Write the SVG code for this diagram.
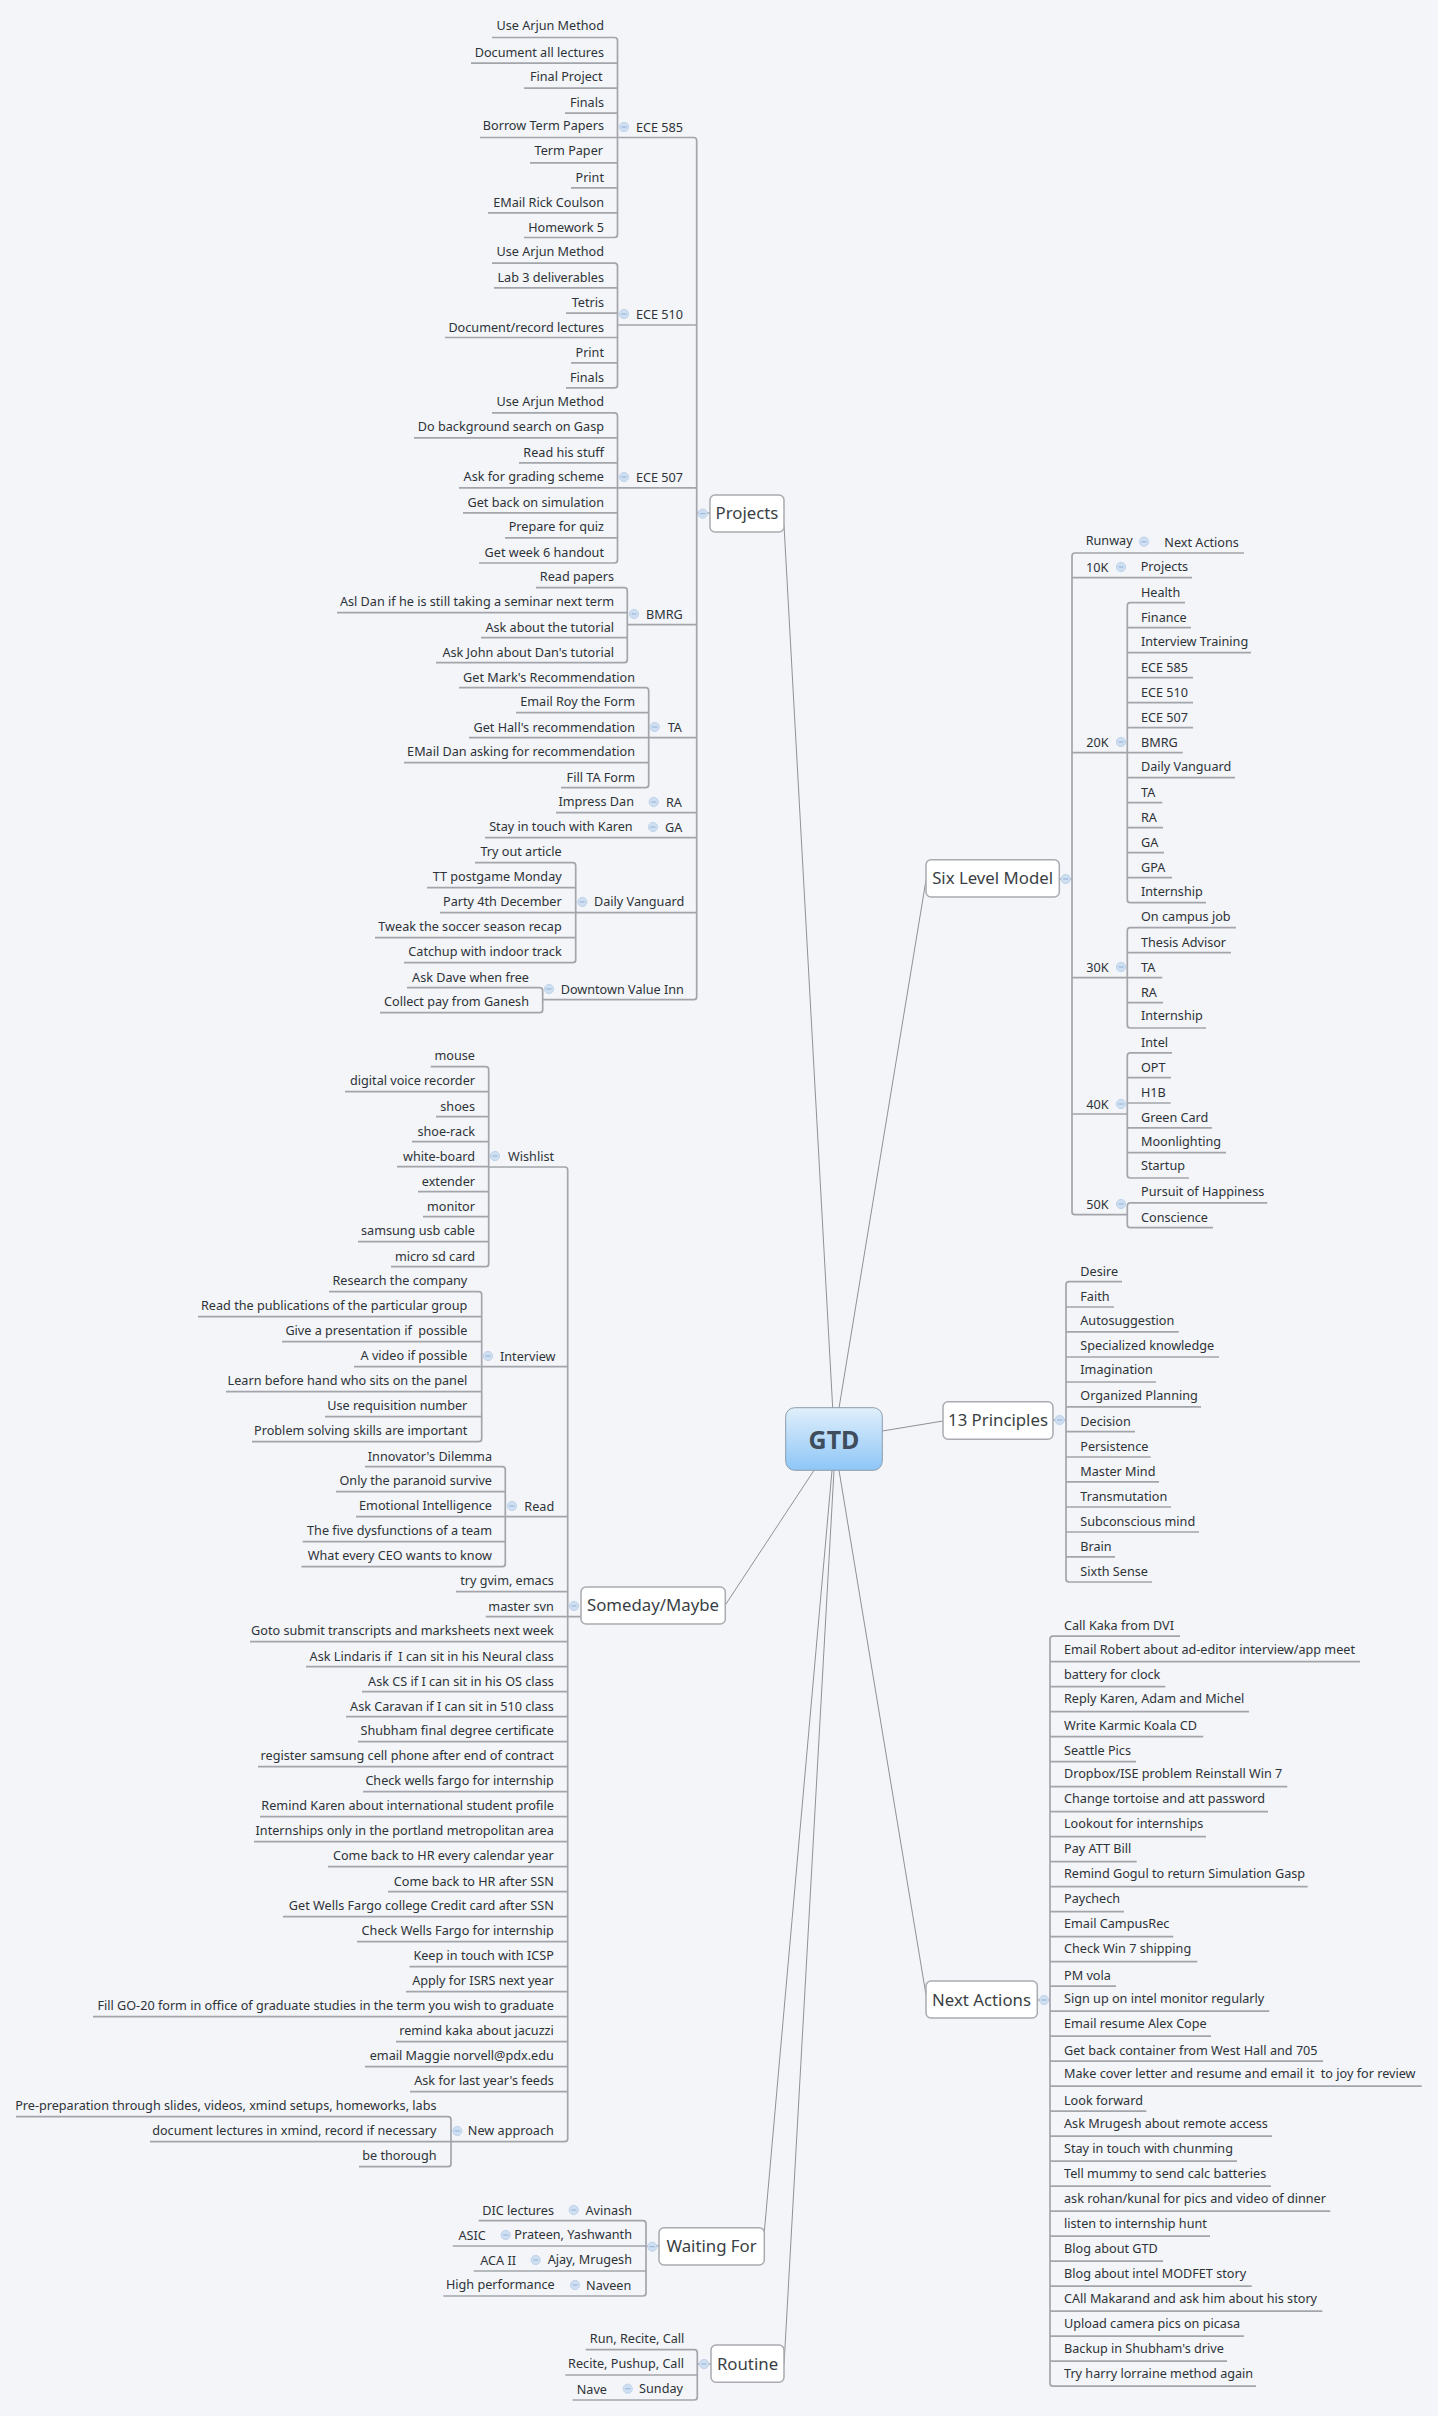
<svg xmlns="http://www.w3.org/2000/svg" width="1438" height="2416" viewBox="0 0 1438 2416">
<style>
text{font-family:"Noto Sans","Open Sans","Liberation Sans",sans-serif;font-size:12.65px;fill:#2e3338;white-space:pre}
.l{text-anchor:end}
.t{font-size:16.8px;text-anchor:middle;fill:#3a3f45}
.root{font-size:25px;font-weight:700;text-anchor:middle;fill:#3f4c5c}
.box{fill:#fff;stroke:#a9abb0;stroke-width:1.5}
.c{fill:none;stroke:#a3a5ab;stroke-width:1.7}
.m{fill:none;stroke:#8f9196;stroke-width:1}
.ci{fill:#cfdff2;stroke:#bed2ea;stroke-width:1}
.mi{stroke:#9db8da;stroke-width:1.2}
</style>
<defs>
<linearGradient id="g" x1="0" y1="0" x2="0" y2="1"><stop offset="0" stop-color="#e0effb"/><stop offset="1" stop-color="#8ec6f7"/></linearGradient>
<g id="i"><circle class="ci" r="4.6"/><path class="mi" d="M-2.5 0H2.5"/></g>
</defs>
<rect width="1438" height="2416" fill="#f3f5f9"/>
<g id="connectors">
<path class="m" d="M784 525L832.7 1408M926 880L839 1408M882.3 1431L943 1421M725.3 1605L814 1470.3M764.3 2232L832 1470.3M784 2365L834 1470.3M926 1995L839 1470.3"/>
<path class="c" d="M697 513H710M618 137.5H693.7Q696.7 137.5 696.7 140.5V996.7Q696.7 999.7 693.7 999.7H543M617.5 325H696.7M617.5 487.9H696.7M627.3 624.7H696.7M648.7 737.7H696.7M556 812.7H696.7M485 837.7H696.7M575.7 912.7H696.7"/>
<path class="c" d="M492 37.5H614.5Q617.5 37.5 617.5 40.5V234.5Q617.5 237.5 614.5 237.5H524M471 63.2H617.5M524 88.2H617.5M565 113.2H617.5M480 137.5H617.5M530 162.9H617.5M571 187.9H617.5M488 212.9H617.5"/>
<path class="c" d="M492 263.2H614.5Q617.5 263.2 617.5 266.2V384.9Q617.5 387.9 614.5 387.9H566M494 287.9H617.5M566 313.2H617.5M445 337.5H617.5M571 362.9H617.5"/>
<path class="c" d="M492 412.9H614.5Q617.5 412.9 617.5 415.9V560Q617.5 563 614.5 563H479M414 437.9H617.5M519 462.9H617.5M459 487.9H617.5M463 512.9H617.5M505 537.9H617.5"/>
<path class="c" d="M536 587.7H624.3Q627.3 587.7 627.3 590.7V659.7Q627.3 662.7 624.3 662.7H436M337 612.7H627.3M481 637.7H627.3"/>
<path class="c" d="M459 687.7H645.7Q648.7 687.7 648.7 690.7V784.7Q648.7 787.7 645.7 787.7H561M516 712.7H648.7M469 737.7H648.7M404 762.7H648.7"/>
<path class="c" d="M475 862.7H572.7Q575.7 862.7 575.7 865.7V959.7Q575.7 962.7 572.7 962.7H404M427 887.7H575.7M440 912.7H575.7M375 937.7H575.7"/>
<path class="c" d="M407 987.7H539.7Q542.7 987.7 542.7 990.7V1009.7Q542.7 1012.7 539.7 1012.7H380"/>
<path class="c" d="M488.7 1167H564.7Q567.7 1167 567.7 1170V2138.7Q567.7 2141.7 564.7 2141.7H451M481.7 1366.7H567.7M505.3 1516.7H567.7"/>
<path class="c" d="M430.7 1066.7H485.7Q488.7 1066.7 488.7 1069.7V1263.7Q488.7 1266.7 485.7 1266.7H391M345 1091.7H488.7M436 1116.7H488.7M412 1141.7H488.7M397 1166.7H488.7M418 1191.7H488.7M423 1216.7H488.7M358 1241.7H488.7"/>
<path class="c" d="M329 1291.7H478.7Q481.7 1291.7 481.7 1294.7V1438.7Q481.7 1441.7 478.7 1441.7H252M198 1316.7H481.7M282 1341.7H481.7M354 1366.7H481.7M226 1391.7H481.7M325 1416.7H481.7"/>
<path class="c" d="M365 1466.7H502.3Q505.3 1466.7 505.3 1469.7V1563.7Q505.3 1566.7 502.3 1566.7H301.5M336 1491.7H505.3M356 1516.7H505.3M302.6 1541.7H505.3"/>
<path class="c" d="M456 1591.7H567.7M485.8 1616.7H581M250 1641.7H567.7M306 1666.7H567.7M362 1691.7H567.7M346 1716.7H567.7M358 1741.7H567.7M258 1766.7H567.7M363 1791.7H567.7M260 1816.7H567.7M254 1841.7H567.7M328 1866.7H567.7M388 1891.7H567.7M283 1916.7H567.7M357 1941.7H567.7M409.5 1966.7H567.7M406 1991.7H567.7M93 2016.7H567.7M396 2041.7H567.7M365 2066.7H567.7M410 2091.7H567.7"/>
<path class="c" d="M16 2116.7H448Q451 2116.7 451 2119.7V2163.7Q451 2166.7 448 2166.7H359M150 2141.7H451"/>
<path class="c" d="M478.7 2220.7H643Q646 2220.7 646 2223.7V2293Q646 2296 643 2296H443.3M452.7 2246H659M473.7 2271H646"/>
<path class="c" d="M585.7 2349.7H694.3Q697.3 2349.7 697.3 2352.7V2397Q697.3 2400 694.3 2400H572.7M565.3 2375H697.3M697.3 2364H711"/>
<path class="c" d="M1059.3 879H1072M1244 553H1075Q1072 553 1072 556V1211.7Q1072 1214.7 1075 1214.7H1127.3M1192 577.7H1072M1127.3 752.7H1072M1127.3 977.7H1072M1127.3 1114H1072"/>
<path class="c" d="M1185 602.7H1130.3Q1127.3 602.7 1127.3 605.7V899.7Q1127.3 902.7 1130.3 902.7H1206M1191 627.7H1127.3M1251 652.7H1127.3M1193 677.7H1127.3M1193 702.7H1127.3M1193 727.7H1127.3M1182.7 752.7H1127.3M1235 777.7H1127.3M1162.3 802.7H1127.3M1163 827.7H1127.3M1164 852.7H1127.3M1172 877.7H1127.3"/>
<path class="c" d="M1236 927.7H1130.3Q1127.3 927.7 1127.3 930.7V1025Q1127.3 1028 1130.3 1028H1206M1231 952.7H1127.3M1162.3 977.7H1127.3M1163 1002.7H1127.3"/>
<path class="c" d="M1172 1052.8H1130.3Q1127.3 1052.8 1127.3 1055.8V1175Q1127.3 1178 1130.3 1178H1189M1171 1077.7H1127.3M1170.7 1103H1127.3M1212 1127.8H1127.3M1226 1152.7H1127.3"/>
<path class="c" d="M1267.3 1202.8H1130.3Q1127.3 1202.8 1127.3 1205.8V1224.7Q1127.3 1227.7 1130.3 1227.7H1213"/>
<path class="c" d="M1053 1420H1066M1122 1281.7H1069Q1066 1281.7 1066 1284.7V1579Q1066 1582 1069 1582H1152M1114 1307H1066M1178.7 1331.8H1066M1219 1357H1066M1156 1382H1066M1201 1406.8H1066M1135 1431.7H1066M1150.7 1457H1066M1159 1481.8H1066M1171 1507H1066M1199 1532H1066M1115 1556.8H1066"/>
<path class="c" d="M1037 2000H1050M1180 1636.2H1053Q1050 1636.2 1050 1639.2V2383.2Q1050 2386.2 1053 2386.2H1256M1360 1661.7H1050M1165.3 1686.7H1050M1249 1711.7H1050M1203.3 1736.7H1050M1136 1761.7H1050M1287.3 1786.7H1050M1268 1811.7H1050M1206 1836.7H1050M1136.7 1861.7H1050M1307.7 1886.7H1050M1124 1911.7H1050M1173.3 1936.7H1050M1197.3 1961.7H1050M1116 1986.2H1050M1269.3 2011.2H1050M1211 2036.2H1050M1323 2061.2H1050M1421.7 2086.2H1050M1146.3 2111.2H1050M1272 2136.2H1050M1237 2161.2H1050M1271 2186.2H1050M1330.3 2211.2H1050M1210 2236.2H1050M1163 2261.2H1050M1251.7 2286.2H1050M1322.3 2311.2H1050M1244 2336.2H1050M1227 2361.2H1050"/>
</g>
<g id="root"><rect x="785.7" y="1407.7" width="96.6" height="62.6" rx="9" fill="url(#g)" stroke="#8c9cab" stroke-width="1"/><text class="root" x="834" y="1449">GTD</text></g>
<g id="projects"><rect class="box" x="710" y="495" width="74" height="37" rx="5"/><text class="t" x="747" y="519">Projects</text><use href="#i" x="702.7" y="513.6"/></g>
<g id="ece585"><text x="636" y="131.8">ECE 585</text><use href="#i" x="624" y="127"/>
<text class="l" x="604" y="30.4">Use Arjun Method</text><text class="l" x="604" y="57.2">Document all lectures</text><text class="l" x="602.5" y="80.8">Final Project</text><text class="l" x="604" y="107.2">Finals</text><text class="l" x="604" y="130.4">Borrow Term Papers</text><text class="l" x="603" y="155.4">Term Paper</text><text class="l" x="604" y="182.2">Print</text><text class="l" x="604" y="207.2">EMail Rick Coulson</text><text class="l" x="604" y="232.2">Homework 5</text></g>
<g id="ece510"><text x="636" y="318.7">ECE 510</text><use href="#i" x="624" y="314"/>
<text class="l" x="604" y="255.7">Use Arjun Method</text><text class="l" x="604" y="282.2">Lab 3 deliverables</text><text class="l" x="604" y="307.2">Tetris</text><text class="l" x="604" y="331.5">Document/record lectures</text><text class="l" x="604" y="357.2">Print</text><text class="l" x="604" y="382.2">Finals</text></g>
<g id="ece507"><text x="636" y="481.8">ECE 507</text><use href="#i" x="624" y="477"/>
<text class="l" x="604" y="405.7">Use Arjun Method</text><text class="l" x="604" y="430.7">Do background search on Gasp</text><text class="l" x="604" y="457.2">Read his stuff</text><text class="l" x="604" y="480.7">Ask for grading scheme</text><text class="l" x="604" y="507.2">Get back on simulation</text><text class="l" x="604" y="530.7">Prepare for quiz</text><text class="l" x="604" y="557">Get week 6 handout</text></g>
<g id="bmrg"><text x="646" y="619">BMRG</text><use href="#i" x="634" y="614"/>
<text class="l" x="614" y="580.7">Read papers</text><text class="l" x="614" y="605.7">Asl Dan if he is still taking a seminar next term</text><text class="l" x="614" y="632">Ask about the tutorial</text><text class="l" x="614" y="657">Ask John about Dan's tutorial</text></g>
<g id="ta"><text x="667.7" y="732">TA</text><use href="#i" x="654.7" y="727"/>
<text class="l" x="635" y="682">Get Mark's Recommendation</text><text class="l" x="635" y="705.7">Email Roy the Form</text><text class="l" x="635" y="732">Get Hall's recommendation</text><text class="l" x="635" y="755.7">EMail Dan asking for recommendation</text><text class="l" x="635" y="782">Fill TA Form</text></g>
<g id="ra"><text x="666" y="807">RA</text><use href="#i" x="653.7" y="802"/><text class="l" x="634" y="806">Impress Dan</text></g>
<g id="ga"><text x="665" y="832">GA</text><use href="#i" x="653" y="827"/><text class="l" x="632.7" y="831">Stay in touch with Karen</text></g>
<g id="daily-vanguard"><text x="594" y="906">Daily Vanguard</text><use href="#i" x="582.3" y="902"/>
<text class="l" x="561.7" y="855.7">Try out article</text><text class="l" x="561.7" y="880.7">TT postgame Monday</text><text class="l" x="561.7" y="905.7">Party 4th December</text><text class="l" x="561.7" y="930.7">Tweak the soccer season recap</text><text class="l" x="561.7" y="955.7">Catchup with indoor track</text></g>
<g id="downtown"><text x="560.7" y="994">Downtown Value Inn</text><use href="#i" x="549" y="989"/>
<text class="l" x="529" y="982">Ask Dave when free</text><text class="l" x="529" y="1006">Collect pay from Ganesh</text></g>
<g id="someday"><rect class="box" x="581" y="1587" width="144.3" height="37" rx="5"/><text class="t" x="653" y="1611">Someday/Maybe</text><use href="#i" x="574" y="1606"/>
<text class="l" x="553.8" y="1585">try gvim, emacs</text><text class="l" x="553.8" y="1610.7">master svn</text><text class="l" x="553.8" y="1634.7">Goto submit transcripts and marksheets next week</text><text class="l" x="553.8" y="1661">Ask Lindaris if  I can sit in his Neural class</text><text class="l" x="553.8" y="1686">Ask CS if I can sit in his OS class</text><text class="l" x="553.8" y="1711">Ask Caravan if I can sit in 510 class</text><text class="l" x="553.8" y="1734.7">Shubham final degree certificate</text><text class="l" x="553.8" y="1759.7">register samsung cell phone after end of contract</text><text class="l" x="553.8" y="1784.7">Check wells fargo for internship</text><text class="l" x="553.8" y="1809.7">Remind Karen about international student profile</text><text class="l" x="553.8" y="1834.7">Internships only in the portland metropolitan area</text><text class="l" x="553.8" y="1859.7">Come back to HR every calendar year</text><text class="l" x="553.8" y="1886">Come back to HR after SSN</text><text class="l" x="553.8" y="1909.7">Get Wells Fargo college Credit card after SSN</text><text class="l" x="553.8" y="1934.7">Check Wells Fargo for internship</text><text class="l" x="553.8" y="1959.7">Keep in touch with ICSP</text><text class="l" x="553.8" y="1984.7">Apply for ISRS next year</text><text class="l" x="553.8" y="2009.7">Fill GO-20 form in office of graduate studies in the term you wish to graduate</text><text class="l" x="553.8" y="2034.7">remind kaka about jacuzzi</text><text class="l" x="553.8" y="2059.7">email Maggie norvell@pdx.edu</text><text class="l" x="553.8" y="2084.7">Ask for last year's feeds</text></g>
<g id="wishlist"><text x="508" y="1161">Wishlist</text><use href="#i" x="495" y="1156"/>
<text class="l" x="475" y="1059.7">mouse</text><text class="l" x="475" y="1084.7">digital voice recorder</text><text class="l" x="475" y="1111">shoes</text><text class="l" x="475" y="1136">shoe-rack</text><text class="l" x="475" y="1161">white-board</text><text class="l" x="475" y="1186">extender</text><text class="l" x="475" y="1211">monitor</text><text class="l" x="475" y="1234.7">samsung usb cable</text><text class="l" x="475" y="1261">micro sd card</text></g>
<g id="interview"><text x="500" y="1361">Interview</text><use href="#i" x="488" y="1356"/>
<text class="l" x="467.3" y="1284.7">Research the company</text><text class="l" x="467.3" y="1309.7">Read the publications of the particular group</text><text class="l" x="467.3" y="1334.7">Give a presentation if  possible</text><text class="l" x="467.3" y="1359.7">A video if possible</text><text class="l" x="467.3" y="1384.7">Learn before hand who sits on the panel</text><text class="l" x="467.3" y="1409.7">Use requisition number</text><text class="l" x="467.3" y="1434.7">Problem solving skills are important</text></g>
<g id="read"><text x="524.3" y="1510.7">Read</text><use href="#i" x="512" y="1506"/>
<text class="l" x="492" y="1461">Innovator's Dilemma</text><text class="l" x="492" y="1484.7">Only the paranoid survive</text><text class="l" x="492" y="1509.7">Emotional Intelligence</text><text class="l" x="492" y="1534.7">The five dysfunctions of a team</text><text class="l" x="492" y="1559.7">What every CEO wants to know</text></g>
<g id="new-approach"><text class="l" x="553.8" y="2134.7">New approach</text><use href="#i" x="457.3" y="2131"/>
<text class="l" x="436.5" y="2109.7">Pre-preparation through slides, videos, xmind setups, homeworks, labs</text><text class="l" x="436.5" y="2134.7">document lectures in xmind, record if necessary</text><text class="l" x="436.5" y="2159.7">be thorough</text></g>
<g id="waiting-for"><rect class="box" x="659" y="2227.7" width="105.3" height="37.3" rx="5"/><text class="t" x="711.5" y="2252">Waiting For</text><use href="#i" x="652.3" y="2246.7"/>
<text class="l" x="632" y="2215">Avinash</text><use href="#i" x="573.7" y="2210"/><text class="l" x="554" y="2215">DIC lectures</text>
<text class="l" x="632" y="2239.4">Prateen, Yashwanth</text><use href="#i" x="505.7" y="2235"/><text class="l" x="485.7" y="2240">ASIC</text>
<text class="l" x="632" y="2264">Ajay, Mrugesh</text><use href="#i" x="535.7" y="2260"/><text class="l" x="516" y="2265">ACA II</text>
<text class="l" x="631.3" y="2289.7">Naveen</text><use href="#i" x="575" y="2285"/><text class="l" x="554.7" y="2289">High performance</text></g>
<g id="routine"><rect class="box" x="711" y="2345" width="73" height="37.3" rx="5"/><text class="t" x="747.5" y="2370">Routine</text><use href="#i" x="704" y="2364"/>
<text class="l" x="684.3" y="2343">Run, Recite, Call</text><text class="l" x="684" y="2368">Recite, Pushup, Call</text><text class="l" x="683" y="2393">Sunday</text><use href="#i" x="627.7" y="2388.7"/><text class="l" x="607" y="2393.7">Nave</text></g>
<g id="six-level"><rect class="box" x="926" y="859.7" width="133.3" height="37.3" rx="5"/><text class="t" x="992.6" y="884">Six Level Model</text><use href="#i" x="1065.7" y="879"/></g>
<g id="runway"><text x="1085.7" y="545">Runway</text><use href="#i" x="1144" y="541.7"/><text x="1164.3" y="547">Next Actions</text></g>
<g id="k10"><text x="1086" y="572">10K</text><use href="#i" x="1121" y="567"/><text x="1140.7" y="570.7">Projects</text></g>
<g id="k20"><text x="1086.3" y="747">20K</text><use href="#i" x="1121" y="742"/>
<text x="1141" y="597">Health</text><text x="1141" y="622">Finance</text><text x="1141" y="645.7">Interview Training</text><text x="1141" y="671.7">ECE 585</text><text x="1141" y="696.7">ECE 510</text><text x="1141" y="721.7">ECE 507</text><text x="1141" y="746.7">BMRG</text><text x="1141" y="770.7">Daily Vanguard</text><text x="1141" y="796.7">TA</text><text x="1141" y="821.7">RA</text><text x="1141" y="846.7">GA</text><text x="1141" y="871.7">GPA</text><text x="1141" y="895.7">Internship</text></g>
<g id="k30"><text x="1086.3" y="971.7">30K</text><use href="#i" x="1121" y="967"/>
<text x="1141" y="920.7">On campus job</text><text x="1141" y="947">Thesis Advisor</text><text x="1141" y="971.7">TA</text><text x="1141" y="996.7">RA</text><text x="1141" y="1020.4">Internship</text></g>
<g id="k40"><text x="1086.3" y="1108.7">40K</text><use href="#i" x="1121" y="1104"/>
<text x="1141" y="1046.7">Intel</text><text x="1141" y="1071.7">OPT</text><text x="1141" y="1096.5">H1B</text><text x="1141" y="1121.7">Green Card</text><text x="1141" y="1145.5">Moonlighting</text><text x="1141" y="1170.4">Startup</text></g>
<g id="k50"><text x="1086.3" y="1208.7">50K</text><use href="#i" x="1121" y="1204"/>
<text x="1141" y="1195.7">Pursuit of Happiness</text><text x="1141" y="1222">Conscience</text></g>
<g id="principles"><rect class="box" x="943" y="1401.7" width="110" height="37.6" rx="5"/><text class="t" x="998" y="1426">13 Principles</text><use href="#i" x="1059.7" y="1420"/>
<text x="1080.3" y="1276">Desire</text><text x="1080.3" y="1300.7">Faith</text><text x="1080.3" y="1324.7">Autosuggestion</text><text x="1080.3" y="1349.5">Specialized knowledge</text><text x="1080.3" y="1374.4">Imagination</text><text x="1080.3" y="1399.7">Organized Planning</text><text x="1080.3" y="1426">Decision</text><text x="1080.3" y="1450.7">Persistence</text><text x="1080.3" y="1475.7">Master Mind</text><text x="1080.3" y="1501">Transmutation</text><text x="1080.3" y="1525.7">Subconscious mind</text><text x="1080.3" y="1550.7">Brain</text><text x="1080.3" y="1575.7">Sixth Sense</text></g>
<g id="next-actions"><rect class="box" x="926" y="1981" width="111.3" height="37" rx="5"/><text class="t" x="981.5" y="2006">Next Actions</text><use href="#i" x="1044" y="2000"/>
<text x="1064" y="1629.7">Call Kaka from DVI</text><text x="1064" y="1653.7">Email Robert about ad-editor interview/app meet</text><text x="1064" y="1678.7">battery for clock</text><text x="1064" y="1703.2">Reply Karen, Adam and Michel</text><text x="1064" y="1729.7">Write Karmic Koala CD</text><text x="1064" y="1754.7">Seattle Pics</text><text x="1064" y="1778.2">Dropbox/ISE problem Reinstall Win 7</text><text x="1064" y="1803.2">Change tortoise and att password</text><text x="1064" y="1828.2">Lookout for internships</text><text x="1064" y="1853.2">Pay ATT Bill</text><text x="1064" y="1878.2">Remind Gogul to return Simulation Gasp</text><text x="1064" y="1903.2">Paychech</text><text x="1064" y="1928.2">Email CampusRec</text><text x="1064" y="1953.2">Check Win 7 shipping</text><text x="1064" y="1979.7">PM vola</text><text x="1064" y="2003.2">Sign up on intel monitor regularly</text><text x="1064" y="2028.2">Email resume Alex Cope</text><text x="1064" y="2054.7">Get back container from West Hall and 705</text><text x="1064" y="2078.2">Make cover letter and resume and email it  to joy for review</text><text x="1064" y="2104.7">Look forward</text><text x="1064" y="2128.2">Ask Mrugesh about remote access</text><text x="1064" y="2153.2">Stay in touch with chunming</text><text x="1064" y="2178.2">Tell mummy to send calc batteries</text><text x="1064" y="2203.2">ask rohan/kunal for pics and video of dinner</text><text x="1064" y="2228.2">listen to internship hunt</text><text x="1064" y="2253.2">Blog about GTD</text><text x="1064" y="2278.2">Blog about intel MODFET story</text><text x="1064" y="2303.2">CAll Makarand and ask him about his story</text><text x="1064" y="2328.2">Upload camera pics on picasa</text><text x="1064" y="2353.2">Backup in Shubham's drive</text><text x="1064" y="2378.2">Try harry lorraine method again</text></g>
</svg>
